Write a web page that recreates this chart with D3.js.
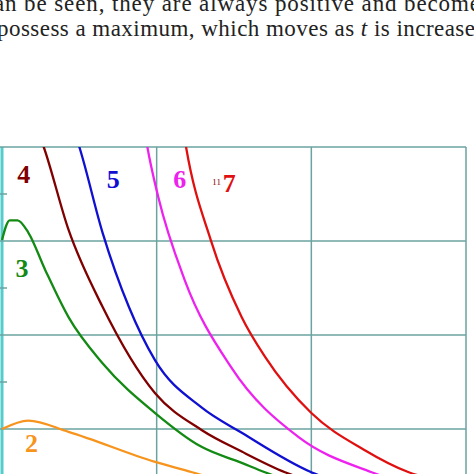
<!DOCTYPE html><html><head><meta charset="utf-8"><script src="https://cdn.jsdelivr.net/npm/d3@7"></script>
<style>body{margin:0;background:#fff}svg{display:block}</style></head><body><svg width="474" height="474"></svg>
<script>
const xTicks=[0,1,2,3], yTicks=[1,2,3,4], yMinor=[1.5,2.5,3.5];
const s2=[[0,1.0],[0.17,1.09],[0.43,0.97],[0.99,0.65],[1.23,0.54],[1.68,0.30]];
const s3=[[0,3.01],[0.05,3.22],[0.1,3.22],[0.17,3.09],[0.28,2.69],[0.43,2.19],[0.65,1.70],[0.99,1.17],[1.29,0.81],[1.55,0.64],[1.70,0.54],[1.9,0.42]];
const s4=[[0.23,4.18],[0.27,4.0],[0.43,3.12],[0.65,2.30],[0.99,1.38],[1.29,0.99],[1.55,0.76],[1.83,0.54],[2.0,0.44]];
const s5=[[0.46,4.2],[0.5,4.0],[0.65,3.09],[0.82,2.30],[0.99,1.73],[1.29,1.23],[1.55,0.96],[2.0,0.54],[2.2,0.42]];
const s6=[[0.92,4.2],[0.94,4.0],[1.01,3.47],[1.18,2.59],[1.48,1.66],[1.92,0.91],[2.39,0.54],[2.6,0.42]];
const s7=[[1.17,4.2],[1.19,4.0],[1.35,3.01],[1.55,2.19],[1.70,1.77],[2.0,1.17],[2.34,0.78],[2.63,0.54],[2.85,0.44]];
const series=[{d:s2,c:"#f7941d",l:"2",lx:0.19,ly:0.76},{d:s3,c:"#138a13",l:"3",lx:0.13,ly:2.62},{d:s4,c:"#800000",l:"4",lx:0.14,ly:3.62},
{d:s5,c:"#1010d0",l:"5",lx:0.72,ly:3.56},{d:s6,c:"#ee22ee",l:"6",lx:1.15,ly:3.56},{d:s7,c:"#e01010",l:"7",lx:1.47,ly:3.52}];
const svg=d3.select("svg");
const x=d3.scaleLinear().domain([0,3]).range([2,466]);
const y=d3.scaleLinear().domain([0,4]).range([523,147]);
svg.append("text").attr("x",-6).attr("y",11).attr("font-family","Liberation Serif,serif").attr("font-size",23).attr("fill","#222").attr("textLength",486).text("an be seen, they are always positive and become");
svg.append("text").attr("x",-3).attr("y",36).attr("font-family","Liberation Serif,serif").attr("font-size",23).attr("fill","#222").attr("textLength",478).html('possess a maximum, which moves as <tspan font-style="italic">t</tspan> is increase');
const g=svg.append("g");
g.selectAll(".v").data(xTicks).join("line").attr("x1",d=>x(d)).attr("x2",d=>x(d)).attr("y1",147).attr("y2",474).attr("stroke",(d,i)=>i==0?"#5cc":"#6aa3a0").attr("stroke-width",(d,i)=>i==0?3:1.5);
g.selectAll(".h").data(yTicks).join("line").attr("x1",0).attr("x2",x(3)).attr("y1",d=>y(d)).attr("y2",d=>y(d)).attr("stroke","#6aa3a0").attr("stroke-width",1.5);
g.selectAll(".m").data(yMinor).join("line").attr("x1",0).attr("x2",7).attr("y1",d=>y(d)).attr("y2",d=>y(d)).attr("stroke","#6aa3a0").attr("stroke-width",1.5);
svg.append("clipPath").attr("id","c").append("rect").attr("x",0).attr("y",147).attr("width",466).attr("height",330);
const line=d3.line().x(d=>x(d[0])).y(d=>y(d[1])).curve(d3.curveMonotoneX);
const cg=svg.append("g").attr("clip-path","url(#c)");
series.forEach(s=>{cg.append("path").attr("d",line(s.d)).attr("fill","none").attr("stroke",s.c).attr("stroke-width",2.3);
svg.append("text").attr("x",x(s.lx)).attr("y",y(s.ly)).attr("text-anchor","middle").attr("font-family","Liberation Serif,serif").attr("font-weight","bold").attr("font-size",26).attr("fill",s.c).text(s.l);});
svg.append("text").attr("x",x(1.36)).attr("y",y(3.6)).attr("font-family","Liberation Serif,serif").attr("font-size",9).attr("fill","#800").text("11");
</script></body></html>
